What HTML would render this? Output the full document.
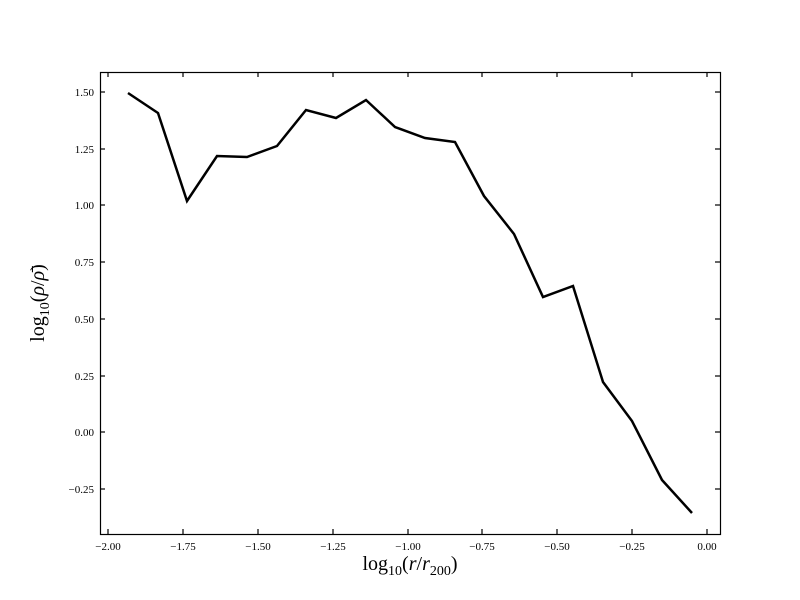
<!DOCTYPE html>
<html><head><meta charset="utf-8"><style>body{margin:0;background:#fff}svg{display:block}</style></head>
<body>
<svg width="800" height="600" xmlns="http://www.w3.org/2000/svg" font-family="Liberation Serif, serif">
<rect width="800" height="600" fill="#fff"/>
<rect x="100.5" y="72.5" width="620" height="462" fill="none" stroke="#000" stroke-width="1.2"/>
<g stroke="#000" stroke-width="1.2">
<line x1="108" y1="534" x2="108" y2="529"/><line x1="108" y1="72" x2="108" y2="77"/>
<line x1="183" y1="534" x2="183" y2="529"/><line x1="183" y1="72" x2="183" y2="77"/>
<line x1="258" y1="534" x2="258" y2="529"/><line x1="258" y1="72" x2="258" y2="77"/>
<line x1="333" y1="534" x2="333" y2="529"/><line x1="333" y1="72" x2="333" y2="77"/>
<line x1="408" y1="534" x2="408" y2="529"/><line x1="408" y1="72" x2="408" y2="77"/>
<line x1="482" y1="534" x2="482" y2="529"/><line x1="482" y1="72" x2="482" y2="77"/>
<line x1="557" y1="534" x2="557" y2="529"/><line x1="557" y1="72" x2="557" y2="77"/>
<line x1="632" y1="534" x2="632" y2="529"/><line x1="632" y1="72" x2="632" y2="77"/>
<line x1="707" y1="534" x2="707" y2="529"/><line x1="707" y1="72" x2="707" y2="77"/>
<line x1="100" y1="92" x2="105" y2="92"/><line x1="720" y1="92" x2="715" y2="92"/>
<line x1="100" y1="149" x2="105" y2="149"/><line x1="720" y1="149" x2="715" y2="149"/>
<line x1="100" y1="205" x2="105" y2="205"/><line x1="720" y1="205" x2="715" y2="205"/>
<line x1="100" y1="262" x2="105" y2="262"/><line x1="720" y1="262" x2="715" y2="262"/>
<line x1="100" y1="319" x2="105" y2="319"/><line x1="720" y1="319" x2="715" y2="319"/>
<line x1="100" y1="376" x2="105" y2="376"/><line x1="720" y1="376" x2="715" y2="376"/>
<line x1="100" y1="432" x2="105" y2="432"/><line x1="720" y1="432" x2="715" y2="432"/>
<line x1="100" y1="489" x2="105" y2="489"/><line x1="720" y1="489" x2="715" y2="489"/>
</g>
<g font-size="11" text-anchor="middle">
<text x="108" y="550">−2.00</text><text x="183" y="550">−1.75</text><text x="258" y="550">−1.50</text>
<text x="333" y="550">−1.25</text><text x="408" y="550">−1.00</text><text x="482" y="550">−0.75</text>
<text x="557" y="550">−0.50</text><text x="632" y="550">−0.25</text><text x="707" y="550">0.00</text>
</g>
<g font-size="11" text-anchor="end">
<text x="94" y="96">1.50</text><text x="94" y="153">1.25</text><text x="94" y="209">1.00</text>
<text x="94" y="266">0.75</text><text x="94" y="323">0.50</text><text x="94" y="380">0.25</text>
<text x="94" y="436">0.00</text><text x="94" y="493">−0.25</text>
</g>
<text x="410" y="570" font-size="20" text-anchor="middle">log<tspan font-size="14" dy="5">10</tspan><tspan dy="-5">(</tspan><tspan font-style="italic">r</tspan>/<tspan font-style="italic">r</tspan><tspan font-size="14" dy="5">200</tspan><tspan dy="-5">)</tspan></text>
<text transform="translate(44,303) rotate(-90)" font-size="20" text-anchor="middle">log<tspan font-size="14" dy="5">10</tspan><tspan dy="-5">(</tspan><tspan font-style="italic">ρ</tspan>/<tspan font-style="italic">ρ̄</tspan>)</text>
<polyline fill="none" stroke="#000" stroke-width="2.5" points="128,93 158,113 187,201 217,156 247,157 277,146 306,110 336,118 366,100 395,127 425,138 455,142 484,196 514,234 543,297 573,286 603,382 632,421 662,480 692,513"/>
</svg>
</body></html>
